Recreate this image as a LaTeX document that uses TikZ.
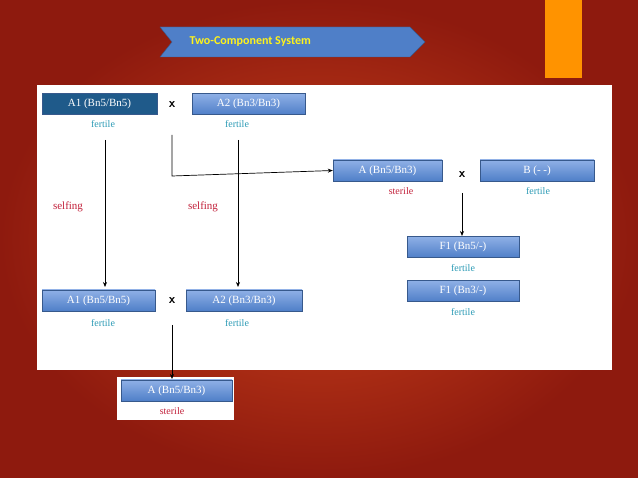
\documentclass[tikz,border=0pt]{standalone}
\usepackage{fontspec}
\setmainfont{Liberation Serif}
\newfontfamily\bannerfont{Carlito}
\usetikzlibrary{arrows.meta}
\definecolor{bgred}{HTML}{CC421C}
\definecolor{bgdark}{HTML}{8E1A0E}
\definecolor{fert}{HTML}{2A9AB5}
\definecolor{ster}{HTML}{C2203A}
\definecolor{boxblue}{HTML}{4F7FC8}
\definecolor{boxtop}{HTML}{8FB0E6}
\definecolor{darkblue}{HTML}{1F5A8A}
\tikzset{
  x=1pt,y=-1pt,
  gbox/.style={minimum height=21pt,inner sep=0pt,text=white,font=\fontsize{11}{12}\selectfont,
    top color=boxtop,bottom color=boxblue,draw=boxblue!70!black,line width=0.4pt},
  darkbox/.style={gbox,top color=darkblue,bottom color=darkblue},
  fl/.style={text=fert,font=\fontsize{10}{11}\selectfont},
  sl/.style={text=ster,font=\fontsize{10}{11}\selectfont},
  xl/.style={font=\sffamily\bfseries\fontsize{13}{13}\selectfont},
  arr/.style={-{Stealth[length=5pt,width=4pt]},line width=0.7pt}
}
\begin{document}
\begin{tikzpicture}
\useasboundingbox (0,0) rectangle (638,478);
\shade[inner color=bgred, outer color=bgdark] (0,0) rectangle (638,478);
\fill[orange!85!yellow] (545,0) rectangle (582,78);
\fill[boxblue,draw=boxblue!70!black] (160,27) -- (410,27) -- (425,42) -- (410,57) -- (160,57) -- (172,42) -- cycle;
\node[anchor=west,text=yellow!90!white,font=\bannerfont\bfseries\fontsize{12}{12}\selectfont] (title) at (186,42) {Two-Component System};
\fill[white] (37,85) rectangle (612,370);
\fill[white] (117,377) rectangle (234,420);

\node[darkbox,minimum width=115pt] (a1) at (99.5,104) {A1 (Bn5/Bn5)};
\node[fl] (a1f) at (103,124) {fertile};
\node[xl] (x1) at (172,105) {x};
\node[gbox,minimum width=113pt] (a2) at (248.5,104) {A2 (Bn3/Bn3)};
\node[fl] (a2f) at (237,124) {fertile};

\node[gbox,minimum width=109pt] (a) at (387.5,170.5) {A (Bn5/Bn3)};
\node[sl] (as) at (401,191) {sterile};
\node[xl] (x2) at (462,175) {x};
\node[gbox,minimum width=114pt] (b) at (537,170.5) {B (- -)};
\node[fl] (bf) at (538,191) {fertile};

\node[gbox,minimum width=112pt] (f1) at (463,247) {F1 (Bn5/-)};
\node[fl] (f1f) at (463,268) {fertile};
\node[gbox,minimum width=112pt] (f2) at (463,291) {F1 (Bn3/-)};
\node[fl] (f2f) at (463,312) {fertile};

\node[gbox,minimum width=113pt] (c1) at (98.5,300.5) {A1 (Bn5/Bn5)};
\node[fl] (c1f) at (103,323) {fertile};
\node[xl] (x3) at (172,301) {x};
\node[gbox,minimum width=116pt] (c2) at (244,300.5) {A2 (Bn3/Bn3)};
\node[fl] (c2f) at (237,323) {fertile};

\node[gbox,minimum width=111pt] (d) at (176.5,390.5) {A (Bn5/Bn3)};
\node[sl] (ds) at (172,411) {sterile};

\node[sl,font=\fontsize{11}{12}\selectfont] (s1) at (68,207) {selfing};
\node[sl,font=\fontsize{11}{12}\selectfont] (s2) at (203,207) {selfing};

\coordinate (p1) at (105,140); \coordinate (q1) at (105,287);
\coordinate (p2) at (238,140); \coordinate (q2) at (238,287);
\coordinate (p3) at (172,135); \coordinate (k3) at (172,176);
\coordinate (p4) at (462,193); \coordinate (q4) at (462,236);
\coordinate (p5) at (172,325); \coordinate (q5) at (172,379);
\draw[arr] (p1) -- (q1);
\draw[arr] (p2) -- (q2);
\draw[arr] (p3) -- (k3) -- (a.west);
\draw[arr] (p4) -- (q4);
\draw[arr] (p5) -- (q5);
\end{tikzpicture}
\end{document}
